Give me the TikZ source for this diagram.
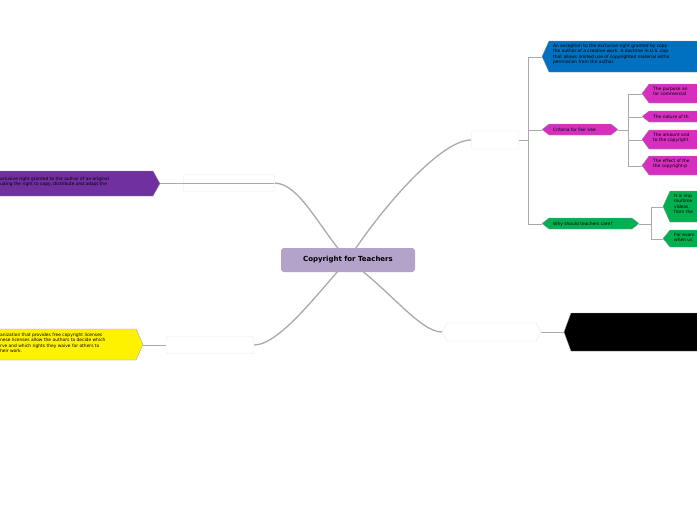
\documentclass[tikz,border=0pt]{standalone}
\usepackage{fontspec}
\setmainfont{DejaVu Sans}
\definecolor{lav}{HTML}{B3A2CA}
\definecolor{pur}{HTML}{7030A0}
\definecolor{blu}{HTML}{0070C0}
\definecolor{mag}{HTML}{D62FC0}
\definecolor{grn}{HTML}{00B050}
\definecolor{ln}{HTML}{AAAAAA}
\tikzset{
  txt/.style={font=\fontsize{4.4}{5.4}\selectfont, align=left, inner sep=0pt, anchor=west},
  wbox/.style={draw=black!8, fill=white, rounded corners=2pt, inner sep=0pt},
  conn/.style={draw=ln, line width=1.3pt},
  br/.style={draw=ln, line width=0.7pt},
}
\newcommand{\hexa}[5]{\fill[#5, draw=black!40, line width=0.3pt] (#1,{(#3+#4)/2}) -- ({#1+7},#3) -- ({#2-7},#3) -- (#2,{(#3+#4)/2}) -- ({#2-7},#4) -- ({#1+7},#4) -- cycle;}
\begin{document}
\begin{tikzpicture}[x=1pt,y=-1pt]
\useasboundingbox (0,0) rectangle (697,520);
\clip (0,0) rectangle (697,520);
\fill[white] (0,0) rectangle (697,520);
\coordinate (c) at (348,260);
\draw[conn] (c) .. controls (380,210) and (440,140) .. (471,140);
\draw[conn] (c) .. controls (320,230) and (300,183) .. (274,183);
\draw[conn] (c) .. controls (320,290) and (280,345) .. (254,345);
\draw[conn] (c) .. controls (390,290) and (420,332) .. (442,332);
\node[fill=lav, rounded corners=3pt, minimum width=134pt, minimum height=24pt, font=\bfseries\fontsize{7}{9}\selectfont] (central) at (348,260) {Copyright for Teachers};
\node[wbox, minimum width=47pt, minimum height=18pt] (fu) at (495,140) {};
\node[wbox, minimum width=91pt, minimum height=17pt] (cp) at (229,183) {};
\node[wbox, minimum width=88pt, minimum height=17pt] (cc) at (210,345) {};
\fill[white, draw=black!8] (442,332) -- (447,323) -- (536,323) -- (541,332) -- (536,341) -- (447,341) -- cycle;
\coordinate (pd) at (541,332);
\draw[br] (274,183) -- (160,183);
\draw[br] (166,345) -- (143,345);
\draw[br] (pd) -- (564,332);
\draw[br] (fu.east) -- (528,140);
\draw[br] (528,57) -- (528,224);
\draw[br] (528,57) -- (542,57);
\draw[br] (528,130) -- (542,130);
\draw[br] (528,224) -- (542,224);
\draw[br] (618,130) -- (628,130);
\draw[br] (628,94) -- (628,166);
\foreach \y in {94,117,140,166} \draw[br] (628,\y) -- (642,\y);
\draw[br] (639,224) -- (651,224);
\draw[br] (651,207) -- (651,239);
\foreach \y in {207,239} \draw[br] (651,\y) -- (663,\y);
\hexa{-20}{160}{171}{196}{pur}
\node[txt, anchor=north west] (ptxt) at (0,177) {xclusive right granted to the author of an original\\uding the right to copy, distribute and adapt the};
\hexa{-20}{143}{329}{360}{yellow}
\node[txt, anchor=north west] (ytxt) at (0,333) {anization that provides free copyright licenses\\nese licenses allow the authors to decide which\\rve and which rights they waive for others to\\heir work.};
\hexa{564}{740}{313}{351}{black}
\hexa{542}{760}{41}{72}{blu}
\node[txt, anchor=north west] (btxt) at (553,44) {An exception to the exclusive right granted by copy\\the author of a creative work. A doctrine in U.S. cop\\that allows limited use of copyrighted material witho\\permission from the author.};
\hexa{542}{618}{124}{135}{mag}
\node[txt] (crit) at (553,130) {Criteria for Fair Use};
\hexa{642}{760}{84}{103}{mag}
\node[txt, anchor=north west] (m1) at (653,87) {The purpose an\\for commercial};
\hexa{642}{760}{111}{122}{mag}
\node[txt] (m2) at (653,116.5) {The nature of th};
\hexa{642}{760}{130}{149}{mag}
\node[txt, anchor=north west] (m3) at (653,133) {The amount and\\to the copyright};
\hexa{642}{760}{156}{175}{mag}
\node[txt, anchor=north west] (m4) at (653,159) {The effect of the\\the copyright-p};
\hexa{542}{639}{218}{229}{grn}
\node[txt] (why) at (553,224) {Why should teachers care?};
\hexa{663}{760}{191}{222}{grn}
\node[txt, anchor=north west] (g1) at (674,194) {It is imp\\multime\\videos,\\from the};
\hexa{663}{760}{230}{247}{grn}
\node[txt, anchor=north west] (g2) at (674,233) {For exam\\when us};
\end{tikzpicture}
\end{document}
